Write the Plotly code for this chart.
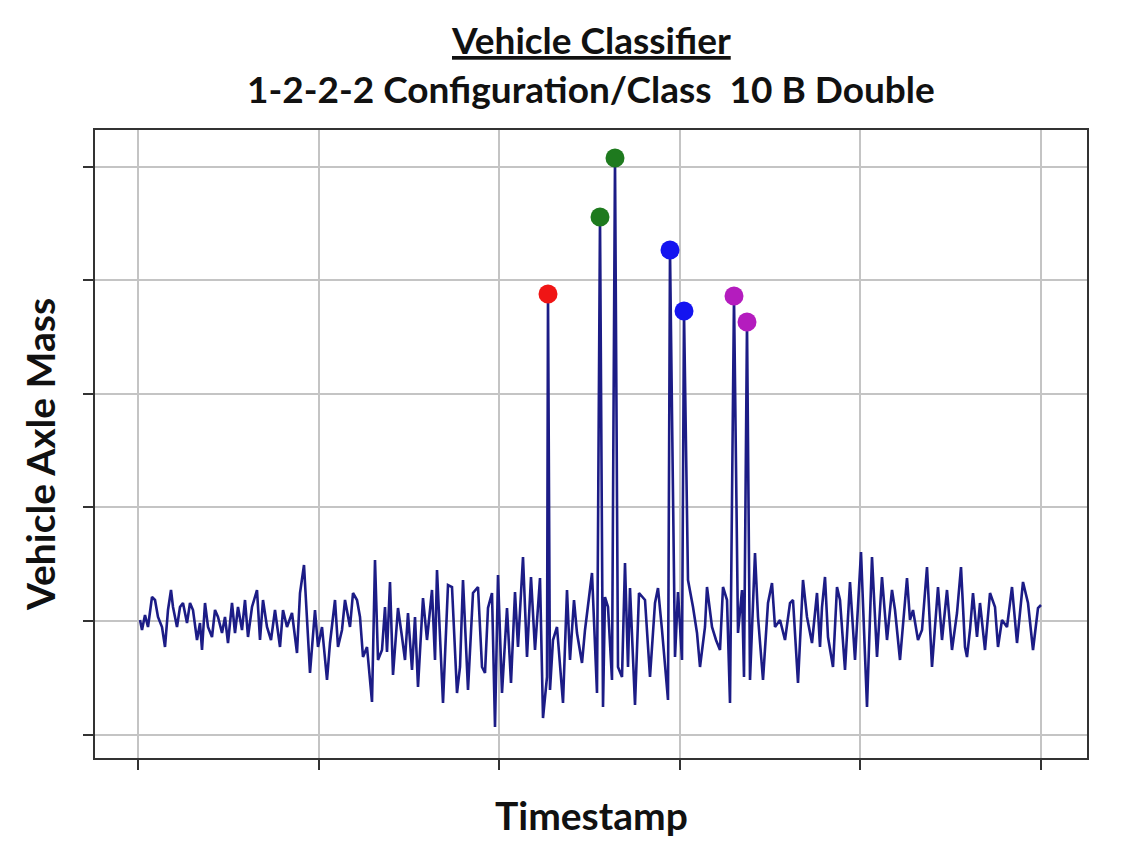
import plotly.graph_objects as go

# Timestamp values and axle-mass signal
signal_t = [2, 4, 7, 10, 14, 17, 20, 24, 27, 30, 33, 35, 39, 42, 45, 49, 52, 55, 59, 62,
            64, 67, 70, 74, 77, 80, 84, 87, 90, 94, 97, 100, 104, 107, 110,
            114, 119, 122, 125, 129, 133, 137, 142, 145, 149, 154, 159, 162, 166, 169,
            172, 177, 180, 184, 189, 192, 197, 200, 204, 207, 212, 215, 219, 222, 225,
            229, 234, 237, 240, 244, 247, 249, 252, 255, 260, 264, 267, 270, 274, 277,
            280, 285, 289, 294, 297, 299, 305, 310, 314, 319, 322, 325, 330, 335, 340,
            344, 347, 350, 354, 357, 360, 364, 369, 373, 377, 380, 385, 389, 393, 397,
            402, 405, 409, 410, 412, 415, 419, 425, 429, 432, 436, 439, 444, 447, 454,
            459, 462, 465, 467, 470, 474, 477, 480, 484, 487, 490, 492, 497, 501, 507,
            512, 517, 520, 524, 530, 532, 537, 540, 544, 546, 550, 555, 559, 562, 567,
            569, 574, 578, 582, 585, 589, 592, 596, 600, 604, 606, 609, 612, 617, 620,
            625, 630, 634, 637, 642, 647, 652, 655, 660, 665, 669, 674, 679, 682,
            684, 687, 690, 695, 699, 702, 707, 712, 717, 723, 726, 729, 734, 739, 744,
            749, 754, 757, 762, 769, 772, 775, 780, 784, 789, 794,
            800, 804, 809, 814, 819, 823, 827, 829, 832, 835, 839, 842, 847, 852, 857,
            860, 864, 869, 874, 879, 885, 890, 895, 900, 903]
signal_m = [1, -9, 6, -6, 24, 21, 4, -6, -26, 11, 31, 14, -6, 14, 18, -2, 18, 11, -19, -2,
            -29, 18, -6, -16, 11, 4, -12, 4, -22, 18, -12, 14, -9, 21, -16,
            14, 31, -19, 21, -6, -19, 11, -26, 11, -6, 8, -32, 28, 56, 4,
            -52, 11, -26, -6, -59, -22, 21, -26, -9, 21, -6, 28, 21, 4, -36,
            -26, -81, 61, -39, -29, 14, -31, 39, -54, 13, -16, -39, 8, -49, 4,
            -66, 23, -19, 31, -39, 51, -82, 36, 34, -72, -46, 41, -69, 28, 34,
            -46, -52, 13, 28, -106, 46, -72, 13, -62, 29, -26, 64, -36, 44, -29,
            43, -97, -56, 327, -69, -19, -6, -82, 31, -39, 21, -12, -42, -9, 48,
            -72, 404, -86, 24, 14, -59, 463, -46, -56, 58, -46, 33, -84, 28, 21,
            -56, 18, 33, -9, -79, 371, -36, 29, -39, 310, 41, 14, -12, -46, -6,
            34, -6, -19, -29, 34, 21, -82, 325, -12, 31, -56, 299, -59, 68, 4,
            -59, 18, 38, -6, 1, -19, 18, 21, -62, 41, 4, -22, 28, -26,
            14, 44, -16, -46, 34, 21, -49, 39, -39, 69, -19, -86, 64, -36, 44,
            -19, 31, 11, -39, 43, 1, 11, -19, -9, 54, -46,
            34, -19, 31, -29, 8, 54, -26, -36, -9, 28, -16, 18, -29, 28, 14,
            -26, 1, -6, 34, -22, 39, 18, -29, 13, 16]

# Detected axle peaks
peak_t = [410, 462, 477, 532, 546, 596, 609]
peak_m = [327, 404, 463, 371, 310, 325, 299]
peak_colors = ["#f01515", "#1e7a1e", "#1e7a1e", "#1414f0", "#1414f0", "#b41cbe", "#b41cbe"]

title_line1 = "Vehicle Classifier"
title_line2 = "1-2-2-2 Configuration/Class  10 B Double"
x_label = "Timestamp"
y_label = "Vehicle Axle Mass"

FONT = "Lato"
LINE = "#1c1c86"

fig = go.Figure()
fig.add_trace(go.Scatter(x=signal_t, y=signal_m, mode="lines",
                         line=dict(color=LINE, width=2.6), hoverinfo="skip", showlegend=False))
fig.add_trace(go.Scatter(x=peak_t, y=peak_m, mode="markers",
                         marker=dict(color=peak_colors, size=19, line=dict(width=0)),
                         showlegend=False))

axis_common = dict(showgrid=True, gridcolor="#c4c4c4", gridwidth=2,
                   showticklabels=False, ticks="outside", ticklen=10, tickwidth=2,
                   tickcolor="#333333", showline=True, linecolor="#333333", linewidth=2,
                   mirror=True, zeroline=False, fixedrange=True)
fig.update_xaxes(range=[-43, 949], tick0=0, dtick=180.6, **axis_common)
fig.update_yaxes(range=[-137, 491], tick0=0, dtick=113.6, **axis_common)

title_font = dict(family=FONT, size=37, color="#111111")
label_font = dict(family=FONT, size=39, color="#111111")
fig.update_layout(
    width=1145, height=855,
    margin=dict(l=95, r=58, t=130, b=97),
    paper_bgcolor="white", plot_bgcolor="white",
    annotations=[
        dict(text="<b><u>" + title_line1 + "</u></b>", xref="paper", yref="paper",
             x=0.5, y=1.1435, xanchor="center", yanchor="middle", showarrow=False, font=title_font),
        dict(text="<b>" + title_line2 + "</b>", xref="paper", yref="paper",
             x=0.5, y=1.0655, xanchor="center", yanchor="middle", showarrow=False, font=title_font),
        dict(text="<b>" + x_label + "</b>", xref="paper", yref="paper",
             x=0.5, y=-0.0908, xanchor="center", yanchor="middle", showarrow=False, font=label_font),
        dict(text="<b>" + y_label + "</b>", xref="paper", yref="paper",
             x=-0.0554, y=0.4825, xanchor="center", yanchor="middle", showarrow=False,
             textangle=-90, font=label_font),
    ],
)

fig.write_html("out.html")
